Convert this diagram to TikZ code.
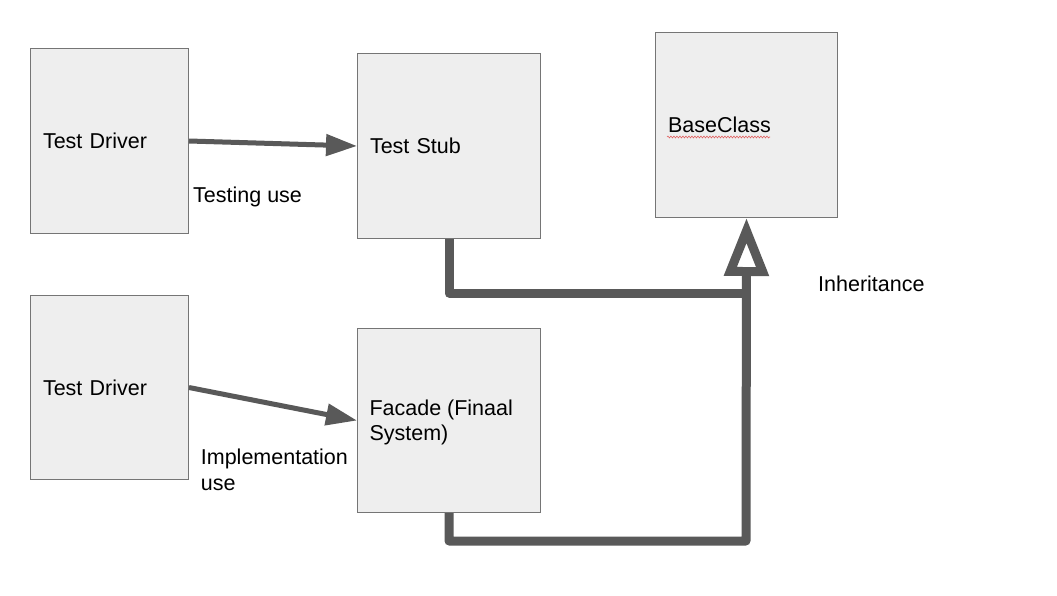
\documentclass[tikz,border=0pt]{standalone}
\usepackage{fontspec}
\setmainfont{Liberation Sans}
\usetikzlibrary{arrows.meta,decorations.pathmorphing}
\definecolor{boxfill}{HTML}{EEEEEE}
\definecolor{boxline}{HTML}{757575}
\definecolor{conn}{HTML}{595959}
\definecolor{squiggle}{HTML}{E06060}
\tikzset{
  lbl/.style={font=\fontsize{21.5}{25.7}\selectfont, text=black, inner sep=0pt, align=left},
  box/.style={lbl, draw=boxline, fill=boxfill, line width=1pt, inner ysep=0pt, anchor=north west},
  usearrow/.style={draw=conn, line width=5pt, -{Triangle[length=31pt,width=21pt]}},
  inhline/.style={draw=conn, line width=9pt, line join=round, line cap=butt},
  inharrow/.style={inhline, -{Triangle[open,length=58pt,width=43pt,fill=white]}}
}
\begin{document}
\begin{tikzpicture}[x=1pt,y=-1pt]
\useasboundingbox[fill=white] (0,0) rectangle (1057,595);
% boxes
\node[box, text width=133pt, inner xsep=12.5pt, minimum height=185pt] (td1) at (30,48) {Test Driver};
\node[box, text width=158pt, inner xsep=12.5pt, minimum height=185pt] (stub) at (357,53) {Test Stub};
\node[box, text width=157pt, inner xsep=12.5pt, minimum height=185pt] (base) at (655,32) {BaseClass};
\node[box, text width=133pt, inner xsep=12.5pt, minimum height=184pt] (td2) at (30,295) {Test Driver};
\node[box, text width=158pt, inner xsep=12.5pt, minimum height=184pt] (facade) at (357,328) {};
\node[lbl, anchor=base west] (facadetxt) at (369.3,440.7) {Facade (Finaal\\System)};
% spell-check squiggle under BaseClass
\coordinate (sq1) at (667,137);
\coordinate (sq2) at (770,137);
\draw[squiggle, line width=0.6pt, decorate, decoration={snake, amplitude=0.9pt, segment length=3pt}] (sq1) -- (sq2);
% labels
\node[lbl, anchor=base west] (testing) at (193,202) {Testing use};
\node[lbl, anchor=base west] (impl) at (200.7,490) {Implementation\\use};
\node[lbl, anchor=base west] (inh) at (818,291.7) {Inheritance};
% use arrows
\draw[usearrow] (td1.east) -- (stub.west);
\draw[usearrow] (td2.east) -- (facade.west);
% inheritance
\coordinate (j) at (746,293);
\coordinate (b) at (746,541);
\draw[inhline] (stub.south) |- (j);
\draw[inharrow] (facade.south) |- (b) -- (base.south);
\end{tikzpicture}
\end{document}
